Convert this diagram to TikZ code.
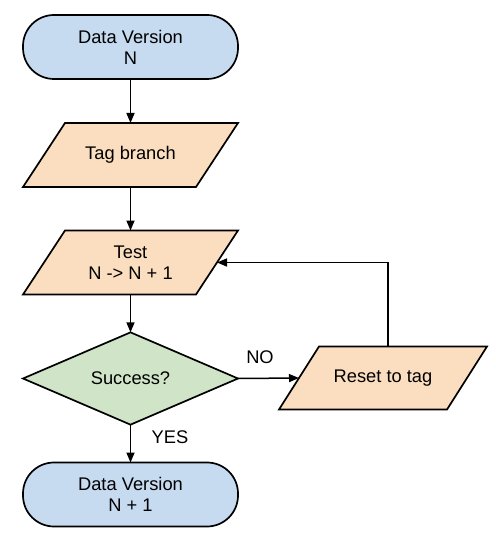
\documentclass[tikz,border=0pt]{standalone}
\usepackage{fontspec}
\setmainfont{Liberation Sans}
\usetikzlibrary{shapes.geometric,arrows.meta,calc,backgrounds}
\definecolor{termblue}{RGB}{198,218,240}
\definecolor{procorange}{RGB}{251,222,192}
\definecolor{decgreen}{RGB}{208,229,200}
\begin{document}
\begin{tikzpicture}[x=1pt,y=-1pt,
  every node/.style={font=\fontsize{18.3}{21}\selectfont, align=center, inner sep=0pt, outer sep=0pt},
  terminal/.style={draw=black, line width=1.7pt, fill=termblue, rectangle, rounded corners=31pt, minimum width=215pt, minimum height=64pt},
  iobox/.style={rectangle, minimum height=64pt},
  iofill/.style={draw=black, line width=1.7pt, fill=procorange, line join=miter},
  decision/.style={draw=black, line width=1.7pt, fill=decgreen, diamond, minimum width=215pt, minimum height=79pt},
  conn/.style={draw=black, line width=1.5pt, -{Triangle[length=10pt,width=8pt]}},
  lbl/.style={font=\fontsize{18.3}{21}\selectfont}
]
\useasboundingbox (0,0) rectangle (495,545);
\node[terminal] (start) at (130.5,47) {Data Version\\N};
\node[iobox, minimum width=215pt] (tag) at (130.5,155) {Tag branch};
\node[iobox, minimum width=215pt] (test) at (130.5,262.5) {Test\\N -> N + 1};
\node[decision] (succ) at (130.5,378.5) {Success?};
\node[iobox, minimum width=208pt, minimum height=63pt] (reset) at (383,378) {Reset to tag};
\node[terminal] (end) at (130.5,494.5) {Data Version\\N + 1};
\node[lbl] (no) at (260,357) {NO};
\node[lbl] (yes) at (170,437) {YES};
\begin{scope}[on background layer]
  \draw[iofill] ([xshift=42pt]tag.north west) -- (tag.north east) -- ([xshift=-42pt]tag.south east) -- (tag.south west) -- cycle;
  \draw[iofill] ([xshift=42pt]test.north west) -- (test.north east) -- ([xshift=-42pt]test.south east) -- (test.south west) -- cycle;
  \draw[iofill] ([xshift=40pt]reset.north west) -- (reset.north east) -- ([xshift=-40pt]reset.south east) -- (reset.south west) -- cycle;
\end{scope}
\coordinate (testright) at ([xshift=-21pt]test.east);
\coordinate (resetleft) at ([xshift=20pt]reset.west);
\path (reset.center) ++(5,-31.5) coordinate (rtop);
\draw[conn] (start) -- (tag);
\draw[conn] (tag) -- (test);
\draw[conn] (test) -- (succ);
\draw[conn] (succ) -- (end);
\draw[conn] (succ.east) -- (resetleft);
\draw[conn] (rtop) |- (testright);
\end{tikzpicture}
\end{document}
